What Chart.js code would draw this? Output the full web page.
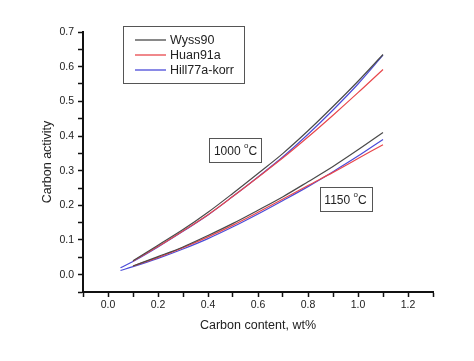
<!DOCTYPE html>
<html>
<head>
<meta charset="utf-8">
<script src="https://cdn.jsdelivr.net/npm/chart.js@4"></script>
<style>
  html, body { margin: 0; padding: 0; background: #fff; }
  #wrap { width: 474px; height: 361px; }
</style>
</head>
<body>
<div id="wrap"><canvas id="lineChart"></canvas></div>
<script>
// carbon content (wt%) sample points
const xStart = [0.1, 0.2, 0.3, 0.4, 0.5, 0.6, 0.7, 0.8, 0.9, 1.0, 1.1];
const xHill = [0.05, 0.1, 0.2, 0.3, 0.4, 0.5, 0.6, 0.7, 0.8, 0.9, 1.0, 1.1];

// 1000 °C
const wyss1000 = [0.040, 0.085, 0.130, 0.180, 0.235, 0.292, 0.350, 0.415, 0.485, 0.558, 0.635];
const huan1000 = [0.039, 0.081, 0.126, 0.173, 0.226, 0.281, 0.337, 0.397, 0.460, 0.525, 0.592];
const hill1000 = [0.020, 0.038, 0.080, 0.125, 0.172, 0.226, 0.282, 0.340, 0.405, 0.475, 0.550, 0.633];

// 1150 °C
const wyss1150 = [0.025, 0.052, 0.080, 0.113, 0.148, 0.186, 0.225, 0.268, 0.312, 0.360, 0.410];
const huan1150 = [0.025, 0.050, 0.078, 0.109, 0.143, 0.180, 0.218, 0.257, 0.295, 0.335, 0.375];
const hill1150 = [0.012, 0.023, 0.047, 0.074, 0.104, 0.138, 0.175, 0.214, 0.254, 0.297, 0.342, 0.390];

const seriesNames = ['Wyss90', 'Huan91a', 'Hill77a-korr'];
const seriesColors = ['#4a4a4a', '#e8474c', '#4b4bd8'];

const tempLabels = [
    { text: '1000 ', x: 0.51, y: 0.361 },
    { text: '1150 ', x: 0.95, y: 0.217 },
];

function toPoints(xs, ys) {
    return xs.map((x, i) => ({ x: x, y: ys[i] }));
}

function makeSet(idx, xs, ys) {
    return {
        label: seriesNames[idx],
        data: toPoints(xs, ys),
        borderColor: seriesColors[idx],
        borderWidth: 1.2,
        pointRadius: 0,
        showLine: true,
        fill: false,
        cubicInterpolationMode: 'monotone',
    };
}

const FONT = 'Liberation Sans, Arial, sans-serif';

// legend box + temperature boxes
const boxesPlugin = {
    id: 'boxes',
    afterDatasetsDraw(chart) {
        const ctx = chart.ctx;
        const xs = chart.scales.x, ys = chart.scales.y;
        ctx.save();

        // legend
        ctx.strokeStyle = '#555';
        ctx.lineWidth = 1;
        ctx.strokeRect(123.5, 26.5, 121, 57);
        ctx.font = '12.5px ' + FONT;
        ctx.textBaseline = 'middle';
        seriesNames.forEach((name, i) => {
            const yy = 40 + i * 15;
            ctx.strokeStyle = seriesColors[i];
            ctx.lineWidth = 1.3;
            ctx.beginPath();
            ctx.moveTo(135, yy);
            ctx.lineTo(166, yy);
            ctx.stroke();
            ctx.fillStyle = '#222';
            ctx.fillText(name, 170, yy + 1);
        });

        // temperature labels
        tempLabels.forEach(t => {
            const cx = xs.getPixelForValue(t.x);
            const cy = ys.getPixelForValue(t.y);
            ctx.strokeStyle = '#555';
            ctx.lineWidth = 1;
            ctx.strokeRect(Math.round(cx - 26) + 0.5, Math.round(cy - 12) + 0.5, 52, 24);
            ctx.fillStyle = '#222';
            ctx.font = '12px ' + FONT;
            const w1 = ctx.measureText(t.text).width;
            ctx.font = '8px ' + FONT;
            const wo = ctx.measureText('o').width;
            ctx.font = '12px ' + FONT;
            const wc = ctx.measureText('C').width;
            let x0 = cx - (w1 + wo + wc) / 2;
            ctx.textBaseline = 'alphabetic';
            ctx.fillText(t.text, x0, cy + 5);
            ctx.font = '8px ' + FONT;
            ctx.fillText('o', x0 + w1, cy - 2);
            ctx.font = '12px ' + FONT;
            ctx.fillText('C', x0 + w1 + wo, cy + 5);
        });
        ctx.restore();
    }
};

new Chart(document.getElementById('lineChart').getContext('2d'), {
    type: 'scatter',
    data: {
        datasets: [
            makeSet(0, xStart, wyss1000),
            makeSet(1, xStart, huan1000),
            makeSet(2, xHill, hill1000),
            makeSet(0, xStart, wyss1150),
            makeSet(1, xStart, huan1150),
            makeSet(2, xHill, hill1150),
        ],
    },
    plugins: [boxesPlugin],
    options: {
        responsive: true,
        maintainAspectRatio: false,
        animation: false,
        layout: {
            padding: { left: 30, right: 41, top: 32, bottom: 24 },
        },
        plugins: {
            legend: { display: false },
            tooltip: { enabled: false },
        },
        scales: {
            x: {
                type: 'linear',
                min: -0.1,
                max: 1.3,
                border: { color: '#111', width: 2 },
                grid: {
                    drawOnChartArea: false,
                    tickLength: 5,
                    tickColor: '#111',
                    tickWidth: 1.5,
                },
                ticks: {
                    stepSize: 0.1,
                    autoSkip: false,
                    maxRotation: 0,
                    color: '#222',
                    font: { family: FONT, size: 10.5 },
                    padding: 2,
                    callback: (v) => (Math.round(v * 10) % 2 === 0 && v >= 0) ? v.toFixed(1) : '',
                },
                title: {
                    display: true,
                    text: 'Carbon content, wt%',
                    color: '#222',
                    font: { family: FONT, size: 12.5 },
                    padding: { top: 8 },
                },
                afterFit(scale) { scale.height = 45; },
            },
            y: {
                type: 'linear',
                min: -0.05,
                max: 0.7,
                border: { color: '#111', width: 2 },
                grid: {
                    drawOnChartArea: false,
                    tickLength: 5,
                    tickColor: '#111',
                    tickWidth: 1.5,
                },
                ticks: {
                    stepSize: 0.05,
                    autoSkip: false,
                    color: '#222',
                    font: { family: FONT, size: 10.5 },
                    padding: 4,
                    callback: (v) => (Math.round(v * 100) % 10 === 0) ? v.toFixed(1) : '',
                },
                title: {
                    display: true,
                    text: 'Carbon activity',
                    color: '#222',
                    font: { family: FONT, size: 12.5 },
                    padding: { top: 10 },
                },
                afterFit(scale) { scale.width = 53; },
            },
        },
    },
});
</script>
</body>
</html>
